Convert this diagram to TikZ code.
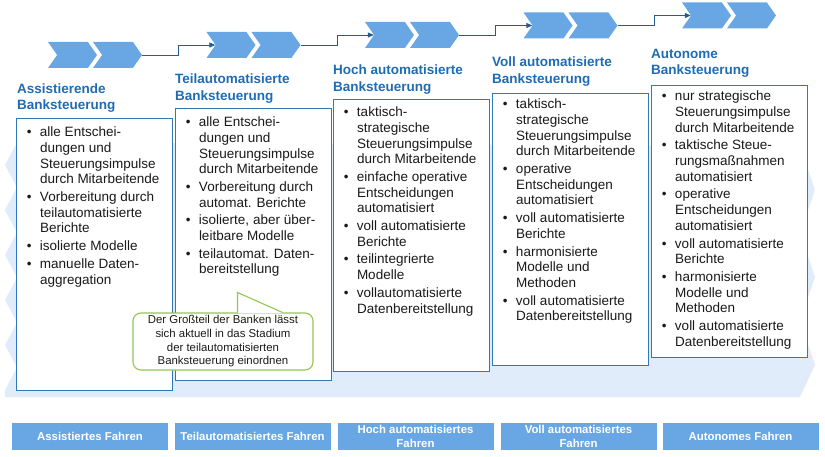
\documentclass[tikz,border=0pt]{standalone}
\usepackage{fontspec}
\setmainfont{Liberation Sans}
\usetikzlibrary{shapes.symbols,arrows.meta,calc}
\definecolor{chev}{HTML}{68A7E3}
\definecolor{titleblue}{HTML}{1F6CB4}
\definecolor{boxblue}{HTML}{2F78BA}
\definecolor{bgblue}{HTML}{E0ECF9}
\definecolor{lineblue}{HTML}{1F5C99}
\definecolor{calgreen}{HTML}{92C750}
\definecolor{txt}{HTML}{1A1A1A}
\newcommand\myb{\makebox[13.2pt][l]{\textbullet}}
\newcommand\myi{\hspace*{13.2pt}}
\newcommand\mystrut{\rule{0pt}{11pt}}
\begin{document}
\begin{tikzpicture}[x=1pt,y=-1pt,
  chevron/.style={signal, signal to=east, signal from=west, signal pointer angle=110,
    fill=chev, draw=none, minimum width=49pt, minimum height=26pt, inner sep=0pt},
  conn/.style={draw=lineblue, line width=0.9pt, -{Triangle[length=6pt,width=5pt]}},
  stagetitle/.style={anchor=north west, inner sep=0pt, align=left, text=titleblue,
    font=\bfseries\fontsize{13.5}{16.5}\selectfont},
  stagebox/.style={draw=boxblue, line width=1.3pt, fill=white, inner sep=0pt,
    anchor=north west, minimum width=155.5pt, minimum height=272pt},
  itemtext/.style={anchor=north west, inner sep=0pt, align=left, text=txt,
    font=\fontsize{13.5}{15.7}\selectfont},
  callbox/.style={draw=calgreen, line width=1.1pt, fill=white, rounded corners=8pt,
    minimum width=180pt, minimum height=57pt, align=center, inner sep=0pt, text=txt,
    font=\fontsize{11.4}{13.7}\selectfont},
  fahren/.style={fill=chev, text=white, minimum width=156pt, minimum height=27pt,
    inner sep=0pt, align=center, font=\bfseries\fontsize{11.4}{14}\selectfont}]
\useasboundingbox (0,0) rectangle (825,457);

% faint background arrow band
\fill[bgblue] (17,142.5) -- (5,165) -- (17,187.5) -- (5,210) -- (17,232.5) -- (5,255)
  -- (17,277.5) -- (5,300) -- (17,322.5) -- (5,345) -- (17,367.5) -- (5,390) -- (5,397)
  -- (800,397) -- (815,365) -- (800,321) -- (815,277) -- (800,233) -- (815,190)
  -- (800,146) -- cycle;

% chevron pairs
\foreach \i/\x/\y in {1/48/55, 2/206.5/45, 3/365/35, 4/523.5/25.5, 5/682/15.5} {
  \node[chevron] (ca\i) at (\x+24.5,\y) {};
  \node[chevron] (cb\i) at (\x+69.5,\y) {};
}
\foreach \i/\j in {1/2,2/3,3/4,4/5}
  \draw[conn] (cb\i.east) -| ($(cb\i.east)!0.5!(ca\j.west)$) |- (ca\j.west);

% titles
\node[stagetitle] (t1) at (17,82) {\mystrut Assistierende\\Banksteuerung};
\node[stagetitle] (t2) at (175,72.5) {\mystrut Teilautomatisierte\\Banksteuerung};
\node[stagetitle] (t3) at (333,63.5) {\mystrut Hoch automatisierte\\Banksteuerung};
\node[stagetitle] (t4) at (492,55.5) {\mystrut Voll automatisierte\\Banksteuerung};
\node[stagetitle] (t5) at (651,47) {\mystrut Autonome\\Banksteuerung};

% boxes
\node[stagebox] (box1) at (16,118) {};
\node[stagebox] (box2) at (175,108) {};
\node[stagebox] (box3) at (333,99) {};
\node[stagebox] (box4) at (492,93) {};
\node[stagebox] (box5) at (651,85) {};

\node[itemtext] (list1) at ($(box1.north west)+(10.6,7.5)$) {\mystrut\myb alle Entschei-\\\myi dungen und\\\myi Steuerungsimpulse\\\myi durch Mitarbeitende\\[2pt]
\myb Vorbereitung durch\\\myi teilautomatisierte\\\myi Berichte\\[2pt]
\myb isolierte Modelle\\[2pt]
\myb manuelle Daten-\\\myi aggregation};

\node[itemtext] (list2) at ($(box2.north west)+(10.6,7.5)$) {\mystrut\myb alle Entschei-\\\myi dungen und\\\myi Steuerungsimpulse\\\myi durch Mitarbeitende\\[2pt]
\myb Vorbereitung durch\\\myi automat. Berichte\\[2pt]
\myb isolierte, aber über-\\\myi leitbare Modelle\\[2pt]
\myb teilautomat. Daten-\\\myi bereitstellung};

\node[itemtext] (list3) at ($(box3.north west)+(10.6,6.5)$) {\mystrut\myb taktisch-\\\myi strategische\\\myi Steuerungsimpulse\\\myi durch Mitarbeitende\\[2pt]
\myb einfache operative\\\myi Entscheidungen\\\myi automatisiert\\[2pt]
\myb voll automatisierte\\\myi Berichte\\[2pt]
\myb teilintegrierte\\\myi Modelle\\[2pt]
\myb vollautomatisierte\\\myi Datenbereitstellung};

\node[itemtext] (list4) at ($(box4.north west)+(10.6,4.5)$) {\mystrut\myb taktisch-\\\myi strategische\\\myi Steuerungsimpulse\\\myi durch Mitarbeitende\\[2pt]
\myb operative\\\myi Entscheidungen\\\myi automatisiert\\[2pt]
\myb voll automatisierte\\\myi Berichte\\[2pt]
\myb harmonisierte\\\myi Modelle und\\\myi Methoden\\[2pt]
\myb voll automatisierte\\\myi Datenbereitstellung};

\node[itemtext] (list5) at ($(box5.north west)+(10.6,4.5)$) {\mystrut\myb nur strategische\\\myi Steuerungsimpulse\\\myi durch Mitarbeitende\\[2pt]
\myb taktische Steue-\\\myi rungsmaßnahmen\\\myi automatisiert\\[2pt]
\myb operative\\\myi Entscheidungen\\\myi automatisiert\\[2pt]
\myb voll automatisierte\\\myi Berichte\\[2pt]
\myb harmonisierte\\\myi Modelle und\\\myi Methoden\\[2pt]
\myb voll automatisierte\\\myi Datenbereitstellung};

% callout
\node[callbox] (callout) at (223,341.5) {Der Großteil der Banken lässt\\sich aktuell in das Stadium\\der teilautomatisierten\\Banksteuerung einordnen};
\fill[white] ($(callout.north west)+(105.6,0.8)$) -- ($(callout.north west)+(105.6,-19.2)$)
  -- ($(callout.north west)+(150,0)$) -- ($(callout.north west)+(150,0.8)$) -- cycle;
\draw[calgreen, line width=1.1pt, line join=miter] ($(callout.north west)+(105,0)$)
  -- ($(callout.north west)+(105,-20)$) -- ($(callout.north west)+(150,0)$);

% bottom labels
\node[fahren] (f1) at (90,436.5) {Assistiertes Fahren};
\node[fahren] (f2) at (252.5,436.5) {Teilautomatisiertes Fahren};
\node[fahren] (f3) at (415.5,436.5) {Hoch automatisiertes\\Fahren};
\node[fahren] (f4) at (578.5,436.5) {Voll automatisiertes\\Fahren};
\node[fahren] (f5) at (740.5,436.5) {Autonomes Fahren};
\end{tikzpicture}
\end{document}
